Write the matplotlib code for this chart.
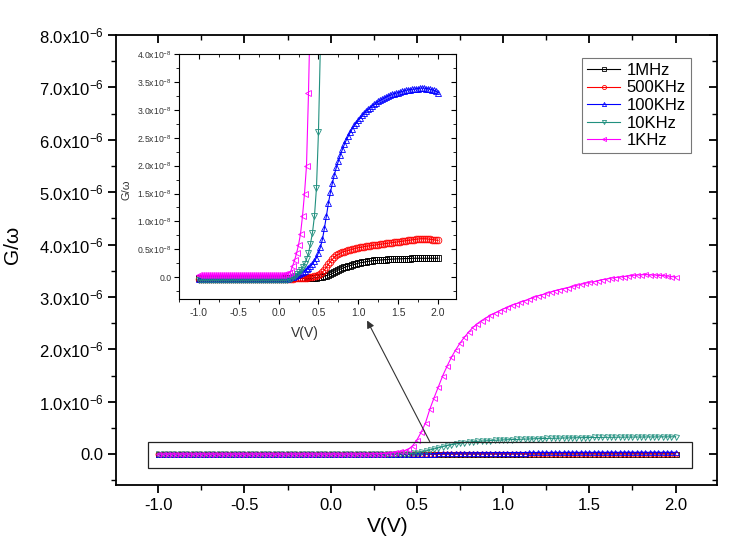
import matplotlib
matplotlib.use('Agg')
import matplotlib.pyplot as plt
from matplotlib.ticker import MultipleLocator, FuncFormatter
from matplotlib.patches import Rectangle
from matplotlib.lines import Line2D
import numpy as np

plt.rcParams['font.family'] = ['Liberation Sans', 'DejaVu Sans']
plt.rcParams['mathtext.fontset'] = 'custom'
plt.rcParams['mathtext.rm'] = 'Liberation Sans'
plt.rcParams['mathtext.it'] = 'Liberation Sans:italic'
plt.rcParams['mathtext.bf'] = 'Liberation Sans:bold'

# ---------------- data (G/omega in units of 1e-8) ----------------
voltage = np.round(np.arange(121) * 0.025 - 1.0, 3)   # -1.0 ... 2.0 V

series_labels = ["1MHz", "500KHz", "100KHz", "10KHz", "1KHz"]

# flat region -1.0 ... 0.075 V (44 points)
g_1mhz_flat = [-0.02, -0.02, -0.02, -0.02, -0.02, -0.02, -0.02, -0.02, -0.02, -0.02, -0.02,
               -0.02, -0.02, -0.02, -0.02, -0.02, -0.02, -0.02, -0.02, -0.02, -0.02, -0.02,
               -0.02, -0.02, -0.02, -0.02, -0.02, -0.02, -0.02, -0.02, -0.02, -0.02, -0.02,
               -0.02, -0.02, -0.02, -0.02, -0.02, -0.02, -0.02, -0.02, -0.02, -0.02, -0.02]
g_500khz_flat = [-0.03, -0.03, -0.03, -0.03, -0.03, -0.03, -0.03, -0.03, -0.03, -0.03, -0.03,
                 -0.03, -0.03, -0.03, -0.03, -0.03, -0.03, -0.03, -0.03, -0.03, -0.03, -0.03,
                 -0.03, -0.03, -0.03, -0.03, -0.03, -0.03, -0.03, -0.03, -0.03, -0.03, -0.03,
                 -0.03, -0.03, -0.03, -0.03, -0.03, -0.03, -0.03, -0.03, -0.03, -0.03, -0.03]
g_100khz_flat = [-0.03, -0.03, -0.03, -0.03, -0.03, -0.03, -0.03, -0.03, -0.03, -0.03, -0.03,
                 -0.03, -0.03, -0.03, -0.03, -0.03, -0.03, -0.03, -0.03, -0.03, -0.03, -0.03,
                 -0.03, -0.03, -0.03, -0.03, -0.03, -0.03, -0.03, -0.03, -0.03, -0.03, -0.03,
                 -0.03, -0.03, -0.03, -0.03, -0.03, -0.03, -0.03, -0.03, -0.03, -0.03, -0.03]
g_10khz_flat = [-0.05, -0.05, -0.05, -0.05, -0.05, -0.05, -0.05, -0.05, -0.05, -0.05, -0.05,
                -0.05, -0.05, -0.05, -0.05, -0.05, -0.05, -0.05, -0.05, -0.05, -0.05, -0.05,
                -0.05, -0.05, -0.05, -0.05, -0.05, -0.05, -0.05, -0.05, -0.05, -0.05, -0.05,
                -0.05, -0.05, -0.05, -0.05, -0.05, -0.05, -0.05, -0.05, -0.05, -0.05, -0.05]
g_1khz_flat = [0.04, 0.04, 0.04, 0.04, 0.04, 0.04, 0.04, 0.04, 0.04, 0.04, 0.04,
               0.04, 0.04, 0.04, 0.04, 0.04, 0.04, 0.04, 0.04, 0.04, 0.04, 0.04,
               0.04, 0.04, 0.04, 0.04, 0.04, 0.04, 0.04, 0.04, 0.04, 0.04, 0.04,
               0.04, 0.04, 0.04, 0.04, 0.04, 0.04, 0.04, 0.04, 0.04, 0.04, 0.05]

# rising region 0.1 ... 2.0 V (77 points)
g_1mhz_rise = [-0.02, -0.02, -0.02, -0.02, -0.02, -0.02, -0.02, -0.02, -0.02, -0.02,
               -0.02, -0.02, -0.02, -0.02, -0.01, -0.01, 0.0, 0.0, 0.01, 0.02,
               0.03, 0.04, 0.05, 0.07, 0.09, 0.11, 0.13, 0.145, 0.16, 0.175,
               0.19, 0.20, 0.21, 0.22, 0.23, 0.24, 0.25,
               0.26, 0.265, 0.27, 0.28, 0.285, 0.29, 0.295, 0.30, 0.30, 0.305,
               0.31, 0.31, 0.315, 0.315, 0.32, 0.32, 0.325, 0.325, 0.33, 0.33,
               0.33, 0.33, 0.335, 0.335, 0.335, 0.335, 0.34, 0.34, 0.34, 0.34,
               0.34, 0.34, 0.34, 0.34, 0.34, 0.34, 0.34, 0.34, 0.34, 0.34]
g_500khz_rise = [-0.03, -0.03, -0.03, -0.03, -0.02, -0.02, -0.02, -0.02, -0.01, -0.01,
                 -0.01, 0.0, 0.0, 0.01, 0.02, 0.03, 0.04, 0.06, 0.09, 0.13,
                 0.18, 0.23, 0.28, 0.32, 0.36, 0.39, 0.41, 0.43, 0.45, 0.46,
                 0.47, 0.48, 0.49, 0.50, 0.51, 0.52, 0.53,
                 0.535, 0.54, 0.55, 0.555, 0.56, 0.565, 0.57, 0.575, 0.58, 0.585,
                 0.59, 0.595, 0.60, 0.605, 0.61, 0.615, 0.62, 0.625, 0.63, 0.635,
                 0.64, 0.645, 0.65, 0.655, 0.66, 0.665, 0.67, 0.675, 0.68, 0.685,
                 0.69, 0.69, 0.69, 0.69, 0.685, 0.68, 0.675, 0.67, 0.665, 0.66]
g_100khz_rise = [-0.03, -0.02, 0.0, 0.01, 0.03, 0.04, 0.06, 0.08, 0.10, 0.12,
                 0.14, 0.17, 0.20, 0.24, 0.29, 0.35, 0.44, 0.54, 0.68, 0.88,
                 1.10, 1.33, 1.52, 1.69, 1.84, 1.97, 2.08, 2.19, 2.29, 2.38,
                 2.46, 2.53, 2.60, 2.66, 2.72, 2.77, 2.82,
                 2.86, 2.90, 2.94, 2.98, 3.01, 3.04, 3.07, 3.10, 3.12, 3.15,
                 3.17, 3.19, 3.21, 3.23, 3.25, 3.26, 3.28, 3.29, 3.30, 3.31,
                 3.32, 3.33, 3.34, 3.35, 3.36, 3.36, 3.37, 3.37, 3.38, 3.38,
                 3.39, 3.39, 3.39, 3.38, 3.38, 3.37, 3.36, 3.35, 3.33, 3.31]
g_10khz_rise = [-0.05, -0.04, -0.03, 0.0, 0.03, 0.06, 0.09, 0.13, 0.18, 0.24,
                0.32, 0.43, 0.6, 0.8, 1.1, 1.6, 2.6, 4.2, 6.0, 8.0,
                10.0, 12.2, 14.3, 16.2, 18.0, 19.5, 20.8, 21.9, 22.8, 23.6,
                24.3, 24.9, 25.4, 25.9, 26.3, 26.7, 27.1,
                27.4, 27.7, 28.0, 28.3, 28.6, 28.9, 29.2, 29.4, 29.7, 29.9,
                30.1, 30.3, 30.5, 30.7, 30.9, 31.0, 31.2, 31.3, 31.5, 31.6,
                31.7, 31.8, 31.9, 32.0, 32.1, 32.2, 32.3, 32.4, 32.5, 32.5,
                32.6, 32.6, 32.7, 32.7, 32.8, 32.8, 32.9, 32.9, 33.0, 33.0]
g_1khz_rise = [0.05, 0.07, 0.10, 0.20, 0.30, 0.43, 0.58, 0.78, 1.10, 1.50,
               2.0, 3.3, 5.0, 6.5, 9.0, 16, 27, 42, 60, 86,
               108, 129, 150, 168, 185, 199, 212, 223, 233, 242,
               249, 255, 260, 265, 269, 273, 277,
               280, 284, 287, 290, 293, 296, 299, 302, 304, 307,
               309, 312, 314, 316, 318, 320, 322, 324, 326, 328,
               329, 331, 333, 334, 336, 337, 338, 339, 340, 341,
               342, 342, 343, 342, 342, 341, 341, 340, 339, 338]

g_1mhz = g_1mhz_flat + g_1mhz_rise
g_500khz = g_500khz_flat + g_500khz_rise
g_100khz = g_100khz_flat + g_100khz_rise
g_10khz = g_10khz_flat + g_10khz_rise
g_1khz = g_1khz_flat + g_1khz_rise
unit = 1e-8

all_series = [g_1mhz, g_500khz, g_100khz, g_10khz, g_1khz]
colors = ['#000000', '#FF0000', '#0000FF', '#21907F', '#FF00FF']
markers = ['s', 'o', '^', 'v', '<']

main_yticks = [0, 1, 2, 3, 4, 5, 6, 7, 8]          # x 1e-6
inset_yticks = [0, 0.5, 1.0, 1.5, 2.0, 2.5, 3.0, 3.5, 4.0]  # x 1e-8
xticks = [-1.0, -0.5, 0.0, 0.5, 1.0, 1.5, 2.0]

# ---------------- figure ----------------
W, H = 736, 538
fig = plt.figure(figsize=(W / 100, H / 100), dpi=100)
L, R, T, B = 116, 717, 35, 485
ax = fig.add_axes([L / W, 1 - B / H, (R - L) / W, (B - T) / H])

for vals, c, m, lab in zip(all_series, colors, markers, series_labels):
    ax.plot(voltage, np.array(vals) * unit, color=c, lw=0.8, marker=m, ms=3.6,
            mfc='none', mew=0.6, label=lab)

ax.set_xlim(-1.245, 2.24)
ax.set_ylim(-0.59e-6, 8.0e-6)
ax.set_xticks(xticks)
ax.xaxis.set_minor_locator(MultipleLocator(0.25))
ax.set_yticks([v * 1e-6 for v in main_yticks])
ax.yaxis.set_minor_locator(MultipleLocator(0.5e-6))


def main_fmt(v, pos):
    k = v / 1e-6
    if abs(k) < 1e-9:
        return "0.0"
    return "%.1fx10$^{-6}$" % k


ax.yaxis.set_major_formatter(FuncFormatter(main_fmt))
ax.xaxis.set_major_formatter(FuncFormatter(lambda v, p: "%.1f" % v))
for s in ax.spines.values():
    s.set_linewidth(1.3)
ax.tick_params(axis='both', which='major', direction='out', length=6, width=1.3,
               labelsize=12, pad=3)
ax.tick_params(axis='both', which='minor', direction='out', length=3.5, width=1.0)
ax.tick_params(which='both', top=True, right=True)
# top and right ticks inward
for t in ax.xaxis.get_major_ticks() + ax.xaxis.get_minor_ticks():
    t.tick2line.set_marker(3)  # TICKDOWN
for t in ax.yaxis.get_major_ticks() + ax.yaxis.get_minor_ticks():
    t.tick2line.set_marker(0)  # TICKLEFT

ax.set_xlabel("V(V)", fontsize=15)
ax.set_ylabel("G/ω", fontsize=15)
ax.xaxis.set_label_coords((388 - L) / (R - L), -(517 - B) / (B - T) - 0.0)
ax.yaxis.set_label_coords(-(L - 22) / (R - L), (B - 245) / (B - T))

# rectangle marking zoomed region
ax.add_patch(Rectangle((-1.06, -0.272e-6), 3.157, 0.506e-6, fill=False,
                       lw=0.9, edgecolor='#222222', zorder=5))
ax.annotate('', xy=(0.211, 2.55e-6), xytext=(0.575, 0.234e-6),
            arrowprops=dict(arrowstyle='-|>', color='#333333', lw=0.8,
                            mutation_scale=11, shrinkA=0, shrinkB=0), zorder=6)

# legend
handles = [Line2D([0], [0], color=c, lw=0.8, marker=m, ms=3, mfc='none', mew=0.6)
           for c, m in zip(colors, markers)]
leg = ax.legend(handles, series_labels, loc='upper right',
                bbox_to_anchor=(691 / W, 1 - 58 / H), bbox_transform=fig.transFigure,
                fontsize=12, frameon=True, fancybox=False, framealpha=1,
                edgecolor='#777777', handlelength=2.0, handletextpad=0.4,
                labelspacing=0.15, borderpad=0.3, borderaxespad=0)
leg.get_frame().set_linewidth(0.8)

# ---------------- inset ----------------
iL, iR, iT, iB = 179, 456, 54, 299
axi = fig.add_axes([iL / W, 1 - iB / H, (iR - iL) / W, (iB - iT) / H])
for vals, c, m in zip(all_series, colors, markers):
    axi.plot(voltage, np.array(vals), color=c, lw=0.8, marker=m, ms=4.8,
             mfc='none', mew=0.6)
axi.set_xlim(-1.25, 2.226)
axi.set_ylim(-0.39, 4.0)
axi.set_xticks(xticks)
axi.xaxis.set_minor_locator(MultipleLocator(0.25))
axi.set_yticks(inset_yticks)
axi.yaxis.set_minor_locator(MultipleLocator(0.25))


def inset_fmt(v, pos):
    if abs(v) < 1e-9:
        return "0.0"
    return "%.1fx10$^{-8}$" % v


axi.yaxis.set_major_formatter(FuncFormatter(inset_fmt))
axi.xaxis.set_major_formatter(FuncFormatter(lambda v, p: "%.1f" % v))
for s in axi.spines.values():
    s.set_linewidth(0.8)
axi.tick_params(axis='x', which='major', direction='out', length=3.5, width=0.8,
                labelsize=7.5, pad=3, labelcolor='#333333')
axi.tick_params(axis='y', which='major', direction='out', length=3.5, width=0.8,
                labelsize=6.2, pad=1.5, labelcolor='#333333')
axi.tick_params(axis='both', which='minor', direction='out', length=2, width=0.6)
axi.tick_params(which='both', top=True, right=True)
for t in axi.xaxis.get_major_ticks() + axi.xaxis.get_minor_ticks():
    t.tick2line.set_marker(3)
for t in axi.yaxis.get_major_ticks() + axi.yaxis.get_minor_ticks():
    t.tick2line.set_marker(0)
axi.set_xlabel("V(V)", fontsize=10, color='#333333')
axi.set_ylabel("G/ω", fontsize=8, color='#333333')
axi.xaxis.set_label_coords((305 - iL) / (iR - iL), -(326 - iB) / (iB - iT))
axi.yaxis.set_label_coords(-(iL - 131) / (iR - iL), (iB - 190) / (iB - iT))

fig.savefig("out.png", dpi=100)
